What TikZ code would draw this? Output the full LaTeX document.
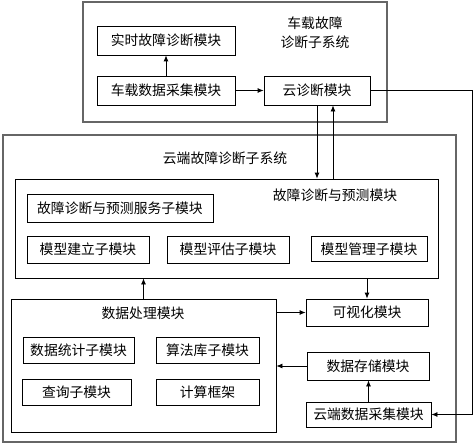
\documentclass[tikz,border=0pt]{standalone}
\usepackage{fontspec}
\setmainfont{Noto Sans CJK SC}
\usetikzlibrary{arrows.meta}
\begin{document}
\begin{tikzpicture}[x=1pt,y=-1pt,
    font=\fontsize{13.8}{19}\selectfont,
    box/.style={draw,line width=0.8pt,inner sep=0pt},
    frame/.style={draw,gray!80!black,line width=1.3pt,inner sep=0pt},
    arr/.style={-{Latex[length=6pt,width=5pt]},line width=0.8pt}]
    \useasboundingbox (0,0) rectangle (474,444);
    % vehicle side
    \node[frame,minimum width=304pt,minimum height=120pt] (carsys) at (235,62) {};
    \node[align=center] (carlbl) at (315,32.5) {车载故障\\诊断子系统};
    \node[box,minimum width=138pt,minimum height=29pt] (shi) at (166,40.5) {实时故障诊断模块};
    \node[box,minimum width=138pt,minimum height=29pt] (chezai) at (166,90.5) {车载数据采集模块};
    \node[box,minimum width=106pt,minimum height=29pt] (yun) at (317,90.5) {云诊断模块};
    % cloud side
    \node[frame,minimum width=453pt,minimum height=307pt] (cloud) at (229.5,288.5) {};
    \node (cloudlbl) at (225,158) {云端故障诊断子系统};
    \node[box,minimum width=423pt,minimum height=99pt] (predict) at (226.5,228.5) {};
    \node (predlbl) at (335,195) {故障诊断与预测模块};
    \node[box,minimum width=186pt,minimum height=28pt] (fuwu) at (120,208) {故障诊断与预测服务子模块};
    \node[box,minimum width=122pt,minimum height=27pt] (jianli) at (88,249.5) {模型建立子模块};
    \node[box,minimum width=122pt,minimum height=27pt] (pinggu) at (228,249.5) {模型评估子模块};
    \node[box,minimum width=116pt,minimum height=25pt] (guanli) at (369,249) {模型管理子模块};
    \node[box,minimum width=265pt,minimum height=133pt] (chuli) at (143.5,365.5) {};
    \node (chulilbl) at (143,313) {数据处理模块};
    \node[box,minimum width=111pt,minimum height=26pt] (tongji) at (78.5,350) {数据统计子模块};
    \node[box,minimum width=103pt,minimum height=26pt] (suanfa) at (207.5,350) {算法库子模块};
    \node[box,minimum width=109pt,minimum height=26pt] (chaxun) at (76.5,392) {查询子模块};
    \node[box,minimum width=103pt,minimum height=26pt] (jisuan) at (207.5,392) {计算框架};
    \node[box,minimum width=122pt,minimum height=27pt] (keshi) at (367,312.5) {可视化模块};
    \node[box,minimum width=122pt,minimum height=28pt] (cunchu) at (368,366) {数据存储模块};
    \node[box,minimum width=125pt,minimum height=25pt] (caiji) at (368.5,414.5) {云端数据采集模块};
    \coordinate (rt) at (472,90.5);
    % connectors
    \draw[arr] (chezai) -- (shi);
    \draw[arr] (chezai) -- (yun);
    \draw[arr] (yun.east) -- (rt) |- (caiji.east);
    \draw[arr] (yun.south) -- (yun.south |- predict.north);
    \draw[arr] ([xshift=16pt]yun.south |- predict.north) -- ([xshift=16pt]yun.south);
    \draw[arr] (chuli.north) -- (chuli.north |- predict.south);
    \draw[arr] (keshi.north |- predict.south) -- (keshi.north);
    \draw[arr] (keshi.west -| chuli.east) -- (keshi.west);
    \draw[arr] (cunchu.west) -- (cunchu.west -| chuli.east);
    \draw[arr] (caiji.north) -- (caiji.north |- cunchu.south);
\end{tikzpicture}
\end{document}
